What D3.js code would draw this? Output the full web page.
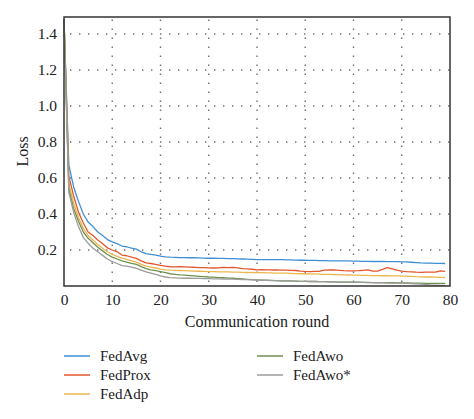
<!DOCTYPE html>
<html>
<head>
<meta charset="utf-8">
<script src="https://cdn.jsdelivr.net/npm/d3@7"></script>
<style>
  body { margin: 0; background: #fff; }
  svg text { font-family: "Liberation Serif", "DejaVu Serif", serif !important; fill: #222; }
</style>
</head>
<body>
<div id="chart"></div>
<script>
const rounds = d3.range(0, 80);

const fedAvg = [1.48, 0.67, 0.55, 0.47, 0.40, 0.355, 0.33, 0.30, 0.28, 0.258, 0.245, 0.235, 0.222, 0.218, 0.21, 0.205, 0.19, 0.18, 0.176, 0.172, 0.166, 0.162, 0.16, 0.159, 0.158, 0.158, 0.157, 0.157, 0.156, 0.155,
  0.154, 0.154, 0.153, 0.153, 0.152, 0.152, 0.151, 0.15, 0.149, 0.148, 0.147, 0.147, 0.147, 0.146, 0.146, 0.146, 0.145, 0.145, 0.144, 0.143, 0.143, 0.142, 0.142, 0.141, 0.141, 0.14, 0.14, 0.14, 0.139, 0.139,
  0.138, 0.138, 0.137, 0.137, 0.136, 0.136, 0.136, 0.135, 0.135, 0.135, 0.134, 0.134, 0.132, 0.13, 0.128, 0.127, 0.127, 0.126, 0.126, 0.125];

const fedProx = [1.48, 0.61, 0.50, 0.41, 0.35, 0.30, 0.28, 0.255, 0.235, 0.212, 0.2, 0.19, 0.172, 0.168, 0.16, 0.153, 0.14, 0.128, 0.125, 0.12, 0.115, 0.11, 0.107, 0.106, 0.107, 0.106, 0.105, 0.104, 0.102, 0.102,
  0.101, 0.1, 0.101, 0.104, 0.102, 0.103, 0.101, 0.096, 0.095, 0.093, 0.09, 0.091, 0.09, 0.089, 0.089, 0.088, 0.088, 0.087, 0.086, 0.083, 0.081, 0.08, 0.081, 0.082, 0.088, 0.089, 0.089, 0.087, 0.085, 0.084,
  0.084, 0.085, 0.087, 0.089, 0.083, 0.083, 0.092, 0.102, 0.095, 0.088, 0.083, 0.08, 0.079, 0.077, 0.076, 0.077, 0.077, 0.077, 0.084, 0.081];

const fedAdp = [1.48, 0.57, 0.46, 0.38, 0.32, 0.28, 0.255, 0.23, 0.21, 0.19, 0.175, 0.165, 0.155, 0.148, 0.14, 0.133, 0.12, 0.11, 0.105, 0.1, 0.094, 0.09, 0.088, 0.087, 0.086, 0.085, 0.084, 0.083, 0.082, 0.081,
  0.08, 0.08, 0.079, 0.078, 0.078, 0.077, 0.077, 0.076, 0.075, 0.075, 0.074, 0.074, 0.073, 0.073, 0.072, 0.072, 0.071, 0.07, 0.069, 0.068, 0.068, 0.067, 0.067, 0.066, 0.065, 0.065, 0.064, 0.063, 0.062, 0.061,
  0.06, 0.06, 0.059, 0.059, 0.058, 0.058, 0.057, 0.057, 0.056, 0.056, 0.055, 0.055, 0.054, 0.052, 0.051, 0.05, 0.05, 0.049, 0.048, 0.048];

const fedAwo = [1.48, 0.54, 0.43, 0.36, 0.30, 0.265, 0.24, 0.215, 0.195, 0.175, 0.16, 0.15, 0.14, 0.133, 0.126, 0.12, 0.108, 0.097, 0.09, 0.085, 0.08, 0.074, 0.068, 0.065, 0.062, 0.06, 0.058, 0.056, 0.054, 0.052,
  0.05, 0.049, 0.047, 0.046, 0.044, 0.043, 0.041, 0.039, 0.037, 0.035, 0.034, 0.033, 0.032, 0.031, 0.03, 0.029, 0.029, 0.028, 0.027, 0.026, 0.026, 0.025, 0.025, 0.024, 0.024, 0.023, 0.023, 0.022, 0.022, 0.021,
  0.021, 0.021, 0.02, 0.02, 0.019, 0.019, 0.019, 0.018, 0.018, 0.017, 0.017, 0.017, 0.016, 0.016, 0.016, 0.015, 0.015, 0.015, 0.015, 0.015];

const fedAwoStar = [1.48, 0.52, 0.41, 0.33, 0.27, 0.237, 0.21, 0.19, 0.17, 0.15, 0.135, 0.125, 0.113, 0.11, 0.105, 0.098, 0.088, 0.078, 0.072, 0.065, 0.056, 0.05, 0.046, 0.045, 0.044, 0.043, 0.043, 0.042, 0.042, 0.041,
  0.041, 0.04, 0.04, 0.039, 0.039, 0.038, 0.037, 0.036, 0.035, 0.034, 0.033, 0.032, 0.031, 0.03, 0.03, 0.029, 0.028, 0.027, 0.027, 0.026, 0.026, 0.025, 0.025, 0.024, 0.024, 0.023, 0.023, 0.022, 0.022, 0.021,
  0.021, 0.02, 0.02, 0.019, 0.019, 0.018, 0.018, 0.017, 0.016, 0.016, 0.015, 0.015, 0.014, 0.012, 0.01, 0.008, 0.006, 0.005, 0.004, 0.003];

const seriesNames = ["FedAvg", "FedProx", "FedAdp", "FedAwo", "FedAwo*"];
const seriesValues = [fedAvg, fedProx, fedAdp, fedAwo, fedAwoStar];
const seriesColors = ["#3f8fd4", "#e2572c", "#eab650", "#6f9150", "#9c9c9c"];

const xTicks = [0, 10, 20, 30, 40, 50, 60, 70, 80];
const yTicks = [0.2, 0.4, 0.6, 0.8, 1.0, 1.2, 1.4];

const width = 474;
const height = 419;
const margin = { top: 17, right: 24, bottom: 133, left: 64 };
const fontStack = "'Liberation Serif', 'DejaVu Serif', serif";

const svg = d3.select("#chart")
  .append("svg")
    .attr("width", width)
    .attr("height", height);

const x = d3.scaleLinear()
  .domain([0, 80])
  .range([margin.left, width - margin.right]);

const y = d3.scaleLinear()
  .domain([0, 1.494])
  .range([height - margin.bottom, margin.top]);

// grid, dotted
svg.append("g")
  .selectAll("line")
  .data(yTicks)
  .join("line")
    .attr("x1", x(0) + 6)
    .attr("x2", x(80))
    .attr("y1", d => y(d))
    .attr("y2", d => y(d))
    .attr("stroke", "#6f6f6f")
    .attr("stroke-width", 1.4)
    .attr("stroke-dasharray", "1.4,7.6");

svg.append("g")
  .selectAll("line")
  .data(xTicks.slice(1, -1))
  .join("line")
    .attr("x1", d => x(d))
    .attr("x2", d => x(d))
    .attr("y1", y(0) - 4)
    .attr("y2", margin.top)
    .attr("stroke", "#6f6f6f")
    .attr("stroke-width", 1.4)
    .attr("stroke-dasharray", "1.4,7.6");

// lines
const line = d3.line()
  .x((d, i) => x(rounds[i]))
  .y(d => y(d));

svg.append("g")
  .selectAll("path")
  .data(seriesValues)
  .join("path")
    .attr("d", d => line(d))
    .attr("fill", "none")
    .attr("stroke", (d, i) => seriesColors[i])
    .attr("stroke-width", 1.3)
    .attr("stroke-linejoin", "round");

// frame
svg.append("rect")
  .attr("x", x(0))
  .attr("y", margin.top)
  .attr("width", x(80) - x(0))
  .attr("height", y(0) - margin.top)
  .attr("fill", "none")
  .attr("stroke", "#333")
  .attr("stroke-width", 1.5);

// axes
const xAxis = svg.append("g")
  .attr("transform", `translate(0,${y(0)})`)
  .call(d3.axisBottom(x).tickValues(xTicks).tickSize(0).tickPadding(8).tickFormat(d3.format("d")));
xAxis.attr("font-family", null);
xAxis.select(".domain").remove();
xAxis.selectAll("text")
  .style("font-family", fontStack)
  .style("font-size", "15.5px")
  .attr("fill", "#222");

const yAxis = svg.append("g")
  .attr("transform", `translate(${x(0)},0)`)
  .call(d3.axisLeft(y).tickValues(yTicks).tickSize(0).tickPadding(7).tickFormat(d3.format(".1f")));
yAxis.attr("font-family", null);
yAxis.select(".domain").remove();
yAxis.selectAll("text")
  .style("font-family", fontStack)
  .style("font-size", "15.5px")
  .attr("fill", "#222");

svg.append("text")
  .attr("x", (x(0) + x(80)) / 2)
  .attr("y", 327)
  .attr("text-anchor", "middle")
  .style("font-size", "16px")
  .text("Communication round");

svg.append("text")
  .attr("transform", `translate(28,${(y(0) + margin.top) / 2}) rotate(-90)`)
  .attr("text-anchor", "middle")
  .style("font-size", "16px")
  .text("Loss");

// legend
const legendPos = [[64, 356], [64, 375], [64, 394], [257, 356], [257, 375]];

const legend = svg.append("g")
  .selectAll("g")
  .data(seriesNames)
  .join("g")
    .attr("transform", (d, i) => `translate(${legendPos[i][0]},${legendPos[i][1]})`);

legend.append("line")
  .attr("x1", 0)
  .attr("x2", 26)
  .attr("stroke", (d, i) => seriesColors[i])
  .attr("stroke-width", 1.5);

legend.append("text")
  .attr("x", 36)
  .attr("y", 5)
  .style("font-size", "15px")
  .text(d => d);
</script>
</body>
</html>
